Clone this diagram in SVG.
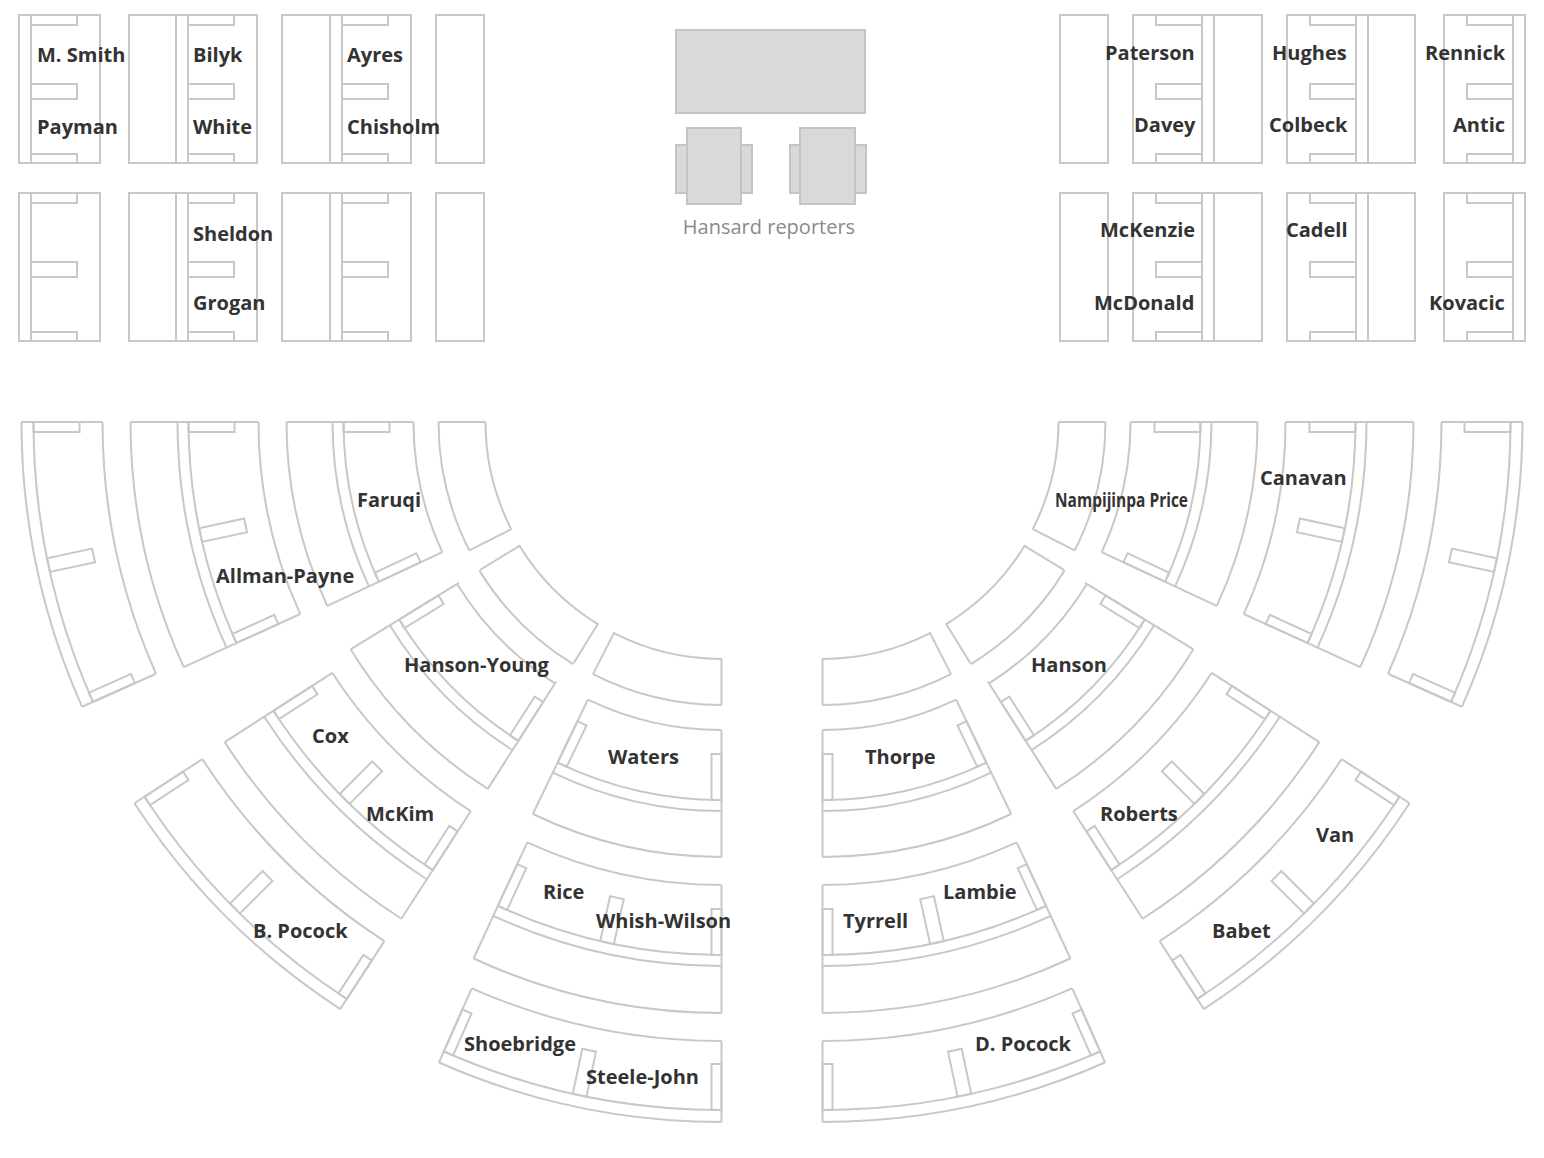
<svg xmlns="http://www.w3.org/2000/svg" width="1544" height="1158" viewBox="0 0 1544 1158">
<style>
.s{fill:none;stroke:#c8c8c8;stroke-width:2}
.s circle,.s rect,.s line{fill:none}
.lbl{font-family:"Open Sans","Liberation Sans",sans-serif;font-size:20px;font-weight:700;fill:#333}
.han{fill:#d9d9d9;stroke:#c4c4c4;stroke-width:2}
</style>
<rect width="1544" height="1158" fill="#fff"/>
<defs>
<g id="topblock">
<rect x="19" y="0" width="81" height="148"/><line x1="31" y1="0" x2="31" y2="148"/>
<rect x="31" y="0" width="46" height="10"/><rect x="31" y="69" width="46" height="15"/><rect x="31" y="139" width="46" height="9"/>
<rect x="129" y="0" width="47" height="148"/><rect x="176" y="0" width="81" height="148"/><line x1="188" y1="0" x2="188" y2="148"/>
<rect x="188" y="0" width="46" height="10"/><rect x="188" y="69" width="46" height="15"/><rect x="188" y="139" width="46" height="9"/>
<rect x="282" y="0" width="48" height="148"/><rect x="330" y="0" width="81" height="148"/><line x1="342" y1="0" x2="342" y2="148"/>
<rect x="342" y="0" width="46" height="10"/><rect x="342" y="69" width="46" height="15"/><rect x="342" y="139" width="46" height="9"/>
<rect x="436" y="0" width="48" height="148"/>
</g>
<line id="r1" x1="438.5" y1="422" x2="485.5" y2="422"/>
<line id="r2" x1="286.5" y1="422" x2="413.5" y2="422"/>
<line id="r3" x1="130.5" y1="422" x2="258.5" y2="422"/>
<line id="r4" x1="21.5" y1="422" x2="102.5" y2="422"/>
<rect id="e2t" x="343.5" y="422" width="46" height="10"/>
<rect id="e2b" x="343.5" y="412" width="46" height="10"/>
<rect id="e3t" x="188.5" y="422" width="46" height="10"/>
<rect id="e3b" x="188.5" y="412" width="46" height="10"/>
<rect id="e4t" x="33.5" y="422" width="46" height="10"/>
<rect id="e4b" x="33.5" y="412" width="46" height="10"/>
<rect id="m3" x="188.5" y="415" width="46" height="14"/>
<rect id="m4" x="33.5" y="415" width="46" height="14"/>
</defs>
<g id="half" class="s">
<use href="#topblock" transform="translate(0,15)"/>
<use href="#topblock" transform="translate(0,193)"/>
<g id="arcs" transform="translate(721.5,422)">
<circle r="236" pathLength="360" stroke-dasharray="27 360" stroke-dashoffset="-153"/>
<circle r="283" pathLength="360" stroke-dasharray="27 360" stroke-dashoffset="-153"/>
<circle r="308" pathLength="360" stroke-dasharray="25 360" stroke-dashoffset="-155"/>
<circle r="378" pathLength="360" stroke-dasharray="25 360" stroke-dashoffset="-155"/>
<circle r="389" pathLength="360" stroke-dasharray="25 360" stroke-dashoffset="-155"/>
<circle r="435" pathLength="360" stroke-dasharray="25 360" stroke-dashoffset="-155"/>
<circle r="463" pathLength="360" stroke-dasharray="24.5 360" stroke-dashoffset="-155.5"/>
<circle r="533" pathLength="360" stroke-dasharray="24.5 360" stroke-dashoffset="-155.5"/>
<circle r="544" pathLength="360" stroke-dasharray="24.5 360" stroke-dashoffset="-155.5"/>
<circle r="591" pathLength="360" stroke-dasharray="24.5 360" stroke-dashoffset="-155.5"/>
<circle r="619" pathLength="360" stroke-dasharray="24 360" stroke-dashoffset="-156"/>
<circle r="688" pathLength="360" stroke-dasharray="24 360" stroke-dashoffset="-156"/>
<circle r="700" pathLength="360" stroke-dasharray="24 360" stroke-dashoffset="-156"/>
<circle r="237" pathLength="360" stroke-dasharray="27 360" stroke-dashoffset="-121.5"/>
<circle r="284" pathLength="360" stroke-dasharray="27 360" stroke-dashoffset="-121.5"/>
<circle r="310" pathLength="360" stroke-dasharray="26 360" stroke-dashoffset="-122.5"/>
<circle r="378" pathLength="360" stroke-dasharray="26 360" stroke-dashoffset="-122.5"/>
<circle r="389" pathLength="360" stroke-dasharray="26 360" stroke-dashoffset="-122.5"/>
<circle r="435" pathLength="360" stroke-dasharray="26 360" stroke-dashoffset="-122.5"/>
<circle r="463" pathLength="360" stroke-dasharray="24.4 360" stroke-dashoffset="-122.8"/>
<circle r="533" pathLength="360" stroke-dasharray="24.4 360" stroke-dashoffset="-122.8"/>
<circle r="544" pathLength="360" stroke-dasharray="24.4 360" stroke-dashoffset="-122.8"/>
<circle r="591" pathLength="360" stroke-dasharray="24.4 360" stroke-dashoffset="-122.8"/>
<circle r="619" pathLength="360" stroke-dasharray="24 360" stroke-dashoffset="-123"/>
<circle r="688" pathLength="360" stroke-dasharray="24 360" stroke-dashoffset="-123"/>
<circle r="700" pathLength="360" stroke-dasharray="24 360" stroke-dashoffset="-123"/>
<circle r="237" pathLength="360" stroke-dasharray="27 360" stroke-dashoffset="-90"/>
<circle r="283" pathLength="360" stroke-dasharray="27 360" stroke-dashoffset="-90"/>
<circle r="308" pathLength="360" stroke-dasharray="25.7 360" stroke-dashoffset="-90"/>
<circle r="378" pathLength="360" stroke-dasharray="25.7 360" stroke-dashoffset="-90"/>
<circle r="389" pathLength="360" stroke-dasharray="25.7 360" stroke-dashoffset="-90"/>
<circle r="435" pathLength="360" stroke-dasharray="25.7 360" stroke-dashoffset="-90"/>
<circle r="463" pathLength="360" stroke-dasharray="24.8 360" stroke-dashoffset="-90"/>
<circle r="533" pathLength="360" stroke-dasharray="24.8 360" stroke-dashoffset="-90"/>
<circle r="544" pathLength="360" stroke-dasharray="24.8 360" stroke-dashoffset="-90"/>
<circle r="591" pathLength="360" stroke-dasharray="24.8 360" stroke-dashoffset="-90"/>
<circle r="619" pathLength="360" stroke-dasharray="23.8 360" stroke-dashoffset="-90"/>
<circle r="688" pathLength="360" stroke-dasharray="23.8 360" stroke-dashoffset="-90"/>
<circle r="700" pathLength="360" stroke-dasharray="23.8 360" stroke-dashoffset="-90"/>
</g>
<g id="ends">
<use href="#r1"/><use href="#r1" transform="rotate(-27 721.5 422)"/>
<use href="#r2"/><use href="#r2" transform="rotate(-25 721.5 422)"/>
<use href="#e2t"/><use href="#e2b" transform="rotate(-25 721.5 422)"/>
<use href="#r3"/><use href="#r3" transform="rotate(-24.5 721.5 422)"/>
<use href="#e3t"/><use href="#e3b" transform="rotate(-24.5 721.5 422)"/><use href="#m3" transform="rotate(-12.25 721.5 422)"/>
<use href="#r4"/><use href="#r4" transform="rotate(-24 721.5 422)"/>
<use href="#e4t"/><use href="#e4b" transform="rotate(-24 721.5 422)"/><use href="#m4" transform="rotate(-12 721.5 422)"/>
<use href="#r1" transform="rotate(-31.5 721.5 422)"/><use href="#r1" transform="rotate(-58.5 721.5 422)"/>
<use href="#r2" transform="rotate(-31.5 721.5 422)"/><use href="#r2" transform="rotate(-57.5 721.5 422)"/>
<use href="#e2t" transform="rotate(-31.5 721.5 422)"/><use href="#e2b" transform="rotate(-57.5 721.5 422)"/>
<use href="#r3" transform="rotate(-32.8 721.5 422)"/><use href="#r3" transform="rotate(-57.2 721.5 422)"/>
<use href="#e3t" transform="rotate(-32.8 721.5 422)"/><use href="#e3b" transform="rotate(-57.2 721.5 422)"/><use href="#m3" transform="rotate(-45 721.5 422)"/>
<use href="#r4" transform="rotate(-33 721.5 422)"/><use href="#r4" transform="rotate(-57 721.5 422)"/>
<use href="#e4t" transform="rotate(-33 721.5 422)"/><use href="#e4b" transform="rotate(-57 721.5 422)"/><use href="#m4" transform="rotate(-45 721.5 422)"/>
<use href="#r1" transform="rotate(-63 721.5 422)"/><use href="#r1" transform="rotate(-90 721.5 422)"/>
<use href="#r2" transform="rotate(-64.3 721.5 422)"/><use href="#r2" transform="rotate(-90 721.5 422)"/>
<use href="#e2t" transform="rotate(-64.3 721.5 422)"/><use href="#e2b" transform="rotate(-90 721.5 422)"/>
<use href="#r3" transform="rotate(-65.2 721.5 422)"/><use href="#r3" transform="rotate(-90 721.5 422)"/>
<use href="#e3t" transform="rotate(-65.2 721.5 422)"/><use href="#e3b" transform="rotate(-90 721.5 422)"/><use href="#m3" transform="rotate(-77.6 721.5 422)"/>
<use href="#r4" transform="rotate(-66.2 721.5 422)"/><use href="#r4" transform="rotate(-90 721.5 422)"/>
<use href="#e4t" transform="rotate(-66.2 721.5 422)"/><use href="#e4b" transform="rotate(-90 721.5 422)"/><use href="#m4" transform="rotate(-78.1 721.5 422)"/>
</g>
</g>
<use id="half-right" href="#half" transform="matrix(-1 0 0 1 1544 0)"/>
<g id="hansard">
<rect class="han" x="676" y="30" width="189" height="83"/>
<rect class="han" x="676" y="145" width="76" height="48"/>
<rect class="han" x="687" y="128" width="54" height="76"/>
<rect class="han" x="790" y="145" width="76" height="48"/>
<rect class="han" x="800" y="128" width="55" height="76"/>
<text x="769" y="234" text-anchor="middle" font-family="'Open Sans','Liberation Sans',sans-serif" font-size="20" fill="#8a8a8a">Hansard reporters</text>
</g>
<g id="labels" class="lbl">
<text x="37" y="62">M. Smith</text><text x="37" y="134">Payman</text>
<text x="193" y="62">Bilyk</text><text x="193" y="134">White</text>
<text x="347" y="62">Ayres</text><text x="347" y="134">Chisholm</text>
<text x="193" y="241">Sheldon</text><text x="193" y="310">Grogan</text>
<text x="1105" y="60">Paterson</text><text x="1134" y="132">Davey</text>
<text x="1272" y="60">Hughes</text><text x="1269" y="132">Colbeck</text>
<text x="1425" y="60">Rennick</text><text x="1453" y="132">Antic</text>
<text x="1100" y="237">McKenzie</text><text x="1094" y="310">McDonald</text>
<text x="1286" y="237">Cadell</text><text x="1429" y="310">Kovacic</text>
<text x="357" y="507">Faruqi</text><text x="216" y="583">Allman-Payne</text>
<text x="404" y="672">Hanson-Young</text><text x="312" y="743">Cox</text>
<text x="366" y="821">McKim</text><text x="253" y="938">B. Pocock</text>
<text x="608" y="764">Waters</text><text x="543" y="899">Rice</text>
<text x="596" y="928">Whish-Wilson</text><text x="464" y="1051">Shoebridge</text>
<text x="586" y="1084">Steele-John</text>
<text x="1055" y="507" font-size="19" textLength="133" lengthAdjust="spacingAndGlyphs">Nampijinpa Price</text>
<text x="1260" y="485">Canavan</text><text x="1031" y="672">Hanson</text>
<text x="1100" y="821">Roberts</text><text x="1316" y="842">Van</text>
<text x="1212" y="938">Babet</text><text x="865" y="764">Thorpe</text>
<text x="943" y="899">Lambie</text><text x="843" y="928">Tyrrell</text>
<text x="975" y="1051">D. Pocock</text>
</g>
</svg>
